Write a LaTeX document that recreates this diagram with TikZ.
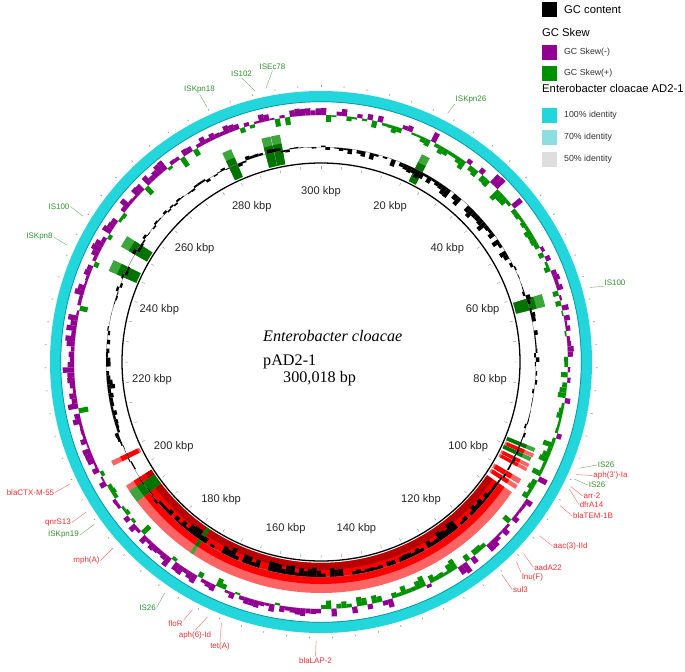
\documentclass[tikz,border=0pt]{standalone}
\usepackage{fontspec}
\setmainfont{Liberation Sans}
\newfontfamily\timesfont{Liberation Serif}
\usetikzlibrary{positioning}

\definecolor{ringcyan}{RGB}{34,214,220}
\definecolor{ringteal}{RGB}{0,150,160}
\definecolor{id70}{RGB}{140,222,224}
\definecolor{id50}{RGB}{222,222,222}
\definecolor{skewneg}{RGB}{145,0,145}
\definecolor{skewpos}{RGB}{0,145,0}
\definecolor{isgreen}{RGB}{50,145,50}
\definecolor{argred}{RGB}{232,50,50}
\definecolor{banddark}{RGB}{185,0,0}
\definecolor{bandlight}{RGB}{255,100,100}
\definecolor{isdark}{RGB}{0,115,0}
\definecolor{islight}{RGB}{60,165,60}

% annular sector: start angle, end angle, inner radius, outer radius
\newcommand\sectorpath[4]{({#1}:{#3}) arc[start angle={#1}, end angle={#2}, radius={#3}]
  -- ({#2}:{#4}) arc[start angle={#2}, end angle={#1}, radius={#4}] -- cycle}

% GC content, per 10 kbp (+ outward)
\def\gcbase{{-3,-6,-7,-9,-10,-6,4,4,2,-2,-3,-8,-10,-5,-4,-9,-11,-10,-8,-3,3,-5,-7,-3,2,3,2,2,3,4}}
% GC skew, per 10 kbp: share of negative skew and size
\def\skewprob{{.5,.4,.15,.1,.15,.45,.6,.6,.4,.2,.3,.3,.25,.3,.35,.5,.6,.75,.8,.7,.8,.9,.9,.9,.85,.85,.9,.85,.8,.7}}
\def\skewsize{{7,7,10,12,11,7,7,8,8,11,8,9,11,9,9,8,8,9,11,8,8,11,12,11,10,10,11,11,8,8}}

\begin{document}
\begin{tikzpicture}[x=0.03cm, y=0.03cm,
  kbp/.style={font=\fontsize{9.5}{11}\selectfont, text=black!85, inner sep=0pt},
  islab/.style={font=\fontsize{6.8}{8}\selectfont, text=isgreen, inner sep=0.6pt},
  arglab/.style={font=\fontsize{6.8}{8}\selectfont, text=argred, inner sep=0.6pt},
  isline/.style={draw=isgreen!70, line width=0.35pt},
  argline/.style={draw=argred!70, line width=0.35pt},
  legsq/.style={minimum size=0.45cm, inner sep=0pt},
  leghead/.style={font=\fontsize{9.6}{11}\selectfont, inner sep=0pt},
  legitem/.style={font=\fontsize{7.5}{9}\selectfont, text=black!80, inner sep=0pt},
  spec/.style={font=\timesfont\fontsize{13.8}{16}\selectfont, anchor=base west, inner sep=0pt},
  tickout/.style={gray!80, line width=0.6pt},
  tickin/.style={gray!80, line width=0.4pt}
]
  \useasboundingbox[fill=white] (0,0) rectangle (685,-671);
  \pgfmathsetseed{4127}

  \begin{scope}[shift={(321,-362)}]
    \coordinate (ctr) at (0,0);
    % identity ring
    \fill[ringcyan, even odd rule] (0,0) circle[radius=271] (0,0) circle[radius=260];
    \draw[ringteal, line width=0.6pt] (0,0) circle[radius=260.3];
    \foreach \p in {0,4,...,296}
      \draw[tickout] ({90-1.19993*\p}:275) -- ({90-1.19993*\p}:276.6);

    % resistance region
    \fill[bandlight] \sectorpath{212.4}{325.7}{201}{231};
    \fill[red] \sectorpath{212.4}{325.7}{201}{222};
    \fill[banddark] \sectorpath{212.4}{325.7}{201}{208};
    \foreach \a/\w in {-23.8/1.0, -26.5/0.9, -27.6/0.9, -31.0/1.3, -32.6/1.1, 205.9/1.3} {
      \fill[bandlight] \sectorpath{\a-\w/2}{\a+\w/2}{201}{232};
      \fill[red] \sectorpath{\a-\w/2}{\a+\w/2}{203}{222};
    }
    % IS elements
    \foreach \a/\w in {101.4/2.3, 103.8/2.3, 114.1/2.4, 63.0/2.2, 148.5/3.0, 155.3/3.0,
                       15.5/3.2, -22.4/1.0, -24.9/1.0, 215.6/3.2, 235.9/0.9} {
      \fill[islight] \sectorpath{\a-\w/2}{\a+\w/2}{201}{231};
      \fill[isdark] \sectorpath{\a-\w/2}{\a+\w/2}{201}{222};
    }

    % GC content
    \draw[gray!60, line width=0.3pt] (0,0) circle[radius=215];
    \foreach \k in {0,...,299} {
      \pgfmathsetmacro\angA{90-1.19993*\k}
      \pgfmathsetmacro\angB{\angA-1.19993}
      \pgfmathtruncatemacro\jj{int(\k/10)}
      \pgfmathtruncatemacro\jn{mod(\jj+1,30)}
      \pgfmathsetmacro\ff{(\k-10*\jj)/10}
      \pgfmathsetmacro\bb{\gcbase[\jj]*(1-\ff)+\gcbase[\jn]*\ff}
      \pgfmathsetmacro\vv{\bb*(0.25+0.9*rnd)*(abs(\bb)<3.5 ? (rnd<0.45 ? -1 : 1) : 1)*(rnd>0.22 ? 1 : 0)}
      \pgfmathsetmacro\rr{215+\vv}
      \fill[black] (\angA:215) -- (\angB:215) -- (\angB:\rr) -- (\angA:\rr) -- cycle;
    }

    % backbone and scale
    \draw[black, line width=1.1pt] (0,0) circle[radius=199];
    \foreach \p in {0,5,...,295}
      \draw[tickin] ({90-1.19993*\p}:193) -- ({90-1.19993*\p}:196);
    \foreach \p in {20,40,...,300}
      \node[kbp] (k\p) at ({90-1.19993*\p}:170) {\p~kbp};

    % GC skew
    \draw[gray!50, line width=0.3pt] (0,0) circle[radius=247];
    \foreach \k in {0,...,299} {
      \pgfmathsetmacro\angA{90-1.19993*\k}
      \pgfmathsetmacro\angB{\angA-1.19993}
      \pgfmathtruncatemacro\jj{int(\k/10)}
      \pgfmathsetmacro\pp{\skewprob[\jj]}
      \pgfmathsetmacro\mm{\skewsize[\jj]}
      \pgfmathsetmacro\hh{(rnd<\pp ? 1 : -1)*\mm*(0.2+0.8*rnd)}
      \pgfmathsetmacro\rr{247+\hh}
      \pgfmathtruncatemacro\isneg{\hh>0 ? 1 : 0}
      \ifnum\isneg=1 \def\skc{skewneg}\else\def\skc{skewpos}\fi
      \fill[\skc] (\angA:247) -- (\angB:247) -- (\angB:\rr) -- (\angA:\rr) -- cycle;
    }
  \end{scope}

  % insertion sequences
  \foreach \nm/\ang/\lx/\ly/\side/\txt in {
      isec78/101.4/272.5/67/south/ISEc78,
      is102/103.7/241.5/74/south/IS102,
      iskpn18/114.1/199.5/89.5/south/ISKpn18,
      iskpn26/63.0/471/99.5/south west/ISKpn26,
      is100a/148.5/59/206.5/east/IS100,
      iskpn8/155.3/39.5/237/east/ISKpn8,
      is100b/15.5/615/282.5/south west/IS100,
      is26a/-22.4/606/465/west/IS26,
      is26b/-24.8/597/485/west/IS26,
      iskpn19/215.6/63.5/535/east/ISKpn19,
      is26c/235.9/147.5/607.5/east/IS26} {
    \path (ctr) ++(\ang:279) coordinate (t-\nm);
    \node[islab] (l-\nm) at (\lx,-\ly) {\txt};
    \draw[isline] (t-\nm) -- (l-\nm.\side);
  }
  % resistance genes
  \foreach \nm/\ang/\lx/\ly/\side/\txt in {
      aph3/-23.8/610.5/475.5/west/{aph(3')-Ia},
      arr2/-26.5/592/496/west/{arr-2},
      dfra14/-27.1/591.5/504.5/west/{dfrA14},
      blatem/-31.0/593/516/west/{blaTEM-1B},
      aac3/-38.5/570.5/546/west/{aac(3)-IId},
      aada22/-43.4/548/567.5/west/{aadA22},
      lnuf/-45.6/532.5/577.5/north west/{lnu(F)},
      sul3/-49.6/520.5/589.5/west/{sul3},
      blalap/269/315.5/660.5/north/{blaLAP-2},
      teta/249.1/220/646.5/north/{tet(A)},
      aph6/246/195/635/north/{aph(6)-Id},
      flor/242.6/175.5/624/north east/{floR},
      mpha/221.8/86.5/560.5/east/{mph(A)},
      qnrs13/212.6/58/522.5/east/{qnrS13},
      blactx/205.9/30.5/492.5/east/{blaCTX-M-55}} {
    \path (ctr) ++(\ang:279) coordinate (t-\nm);
    \node[arglab] (l-\nm) at (\lx,-\ly) {\txt};
    \draw[argline] (t-\nm) -- (l-\nm.\side);
  }

  % title in the middle
  \node[spec, font=\timesfont\itshape\fontsize{13.8}{16}\selectfont] (species) at (263,-341) {Enterobacter cloacae};
  \node[spec] (plasmid) at (263,-365) {pAD2-1};
  \node[spec] (size) at (283,-382) {300,018 bp};

  % legend
  \node[legsq, fill=black] (sqgc) at (549.5,-9.5) {};
  \node[leghead, right=0.2cm of sqgc] (txgc) {GC content};
  \node[leghead, anchor=west] (hdskew) at (542,-32) {GC Skew};
  \node[legsq, fill=skewneg] (sqneg) at (549.5,-52) {};
  \node[legitem, right=0.2cm of sqneg] (txneg) {GC Skew(-)};
  \node[legsq, fill=skewpos] (sqpos) at (549.5,-73) {};
  \node[legitem, right=0.2cm of sqpos] (txpos) {GC Skew(+)};
  \node[leghead, anchor=west] (hdref) at (542,-88.5) {Enterobacter cloacae AD2-1};
  \node[legsq, fill=ringcyan] (sq100) at (549.5,-115.5) {};
  \node[legitem, right=0.2cm of sq100] (tx100) {100\% identity};
  \node[legsq, fill=id70] (sq70) at (549.5,-137) {};
  \node[legitem, right=0.2cm of sq70] (tx70) {70\% identity};
  \node[legsq, fill=id50] (sq50) at (549.5,-159) {};
  \node[legitem, right=0.2cm of sq50] (tx50) {50\% identity};
\end{tikzpicture}
\end{document}
